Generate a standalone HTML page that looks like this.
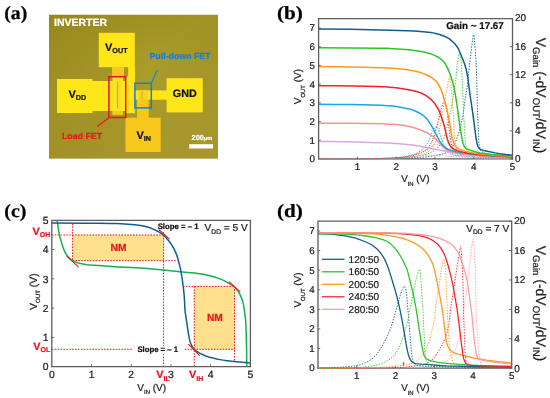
<!DOCTYPE html>
<html lang="en"><head><meta charset="utf-8"><title>Inverter figure</title>
<style>
html,body{margin:0;padding:0;background:#fff;}
body{width:550px;height:398px;overflow:hidden;font-family:"Liberation Sans", Arial, sans-serif;}
svg{display:block;}
text{white-space:pre;}
</style></head><body>
<svg width="550" height="398" viewBox="0 0 550 398" text-rendering="geometricPrecision">
<rect width="550" height="398" fill="#fff"/>
<text x="4.3" y="19.0" font-family='"Liberation Serif", "Times New Roman", serif' font-size="18.7" font-weight="bold" fill="#000" text-anchor="start" stroke="#000" stroke-width="0.22" textLength="23.0" lengthAdjust="spacingAndGlyphs">(a)</text>
<text x="277.0" y="19.0" font-family='"Liberation Serif", "Times New Roman", serif' font-size="18.7" font-weight="bold" fill="#000" text-anchor="start" stroke="#000" stroke-width="0.22" textLength="25.8" lengthAdjust="spacingAndGlyphs">(b)</text>
<text x="4.3" y="217.0" font-family='"Liberation Serif", "Times New Roman", serif' font-size="18.7" font-weight="bold" fill="#000" text-anchor="start" stroke="#000" stroke-width="0.22" textLength="22.1" lengthAdjust="spacingAndGlyphs">(c)</text>
<text x="277.0" y="217.0" font-family='"Liberation Serif", "Times New Roman", serif' font-size="18.7" font-weight="bold" fill="#000" text-anchor="start" stroke="#000" stroke-width="0.22" textLength="25.8" lengthAdjust="spacingAndGlyphs">(d)</text>
<defs>
<radialGradient id="bg" gradientUnits="userSpaceOnUse" cx="150" cy="75" r="120">
<stop offset="0" stop-color="#aea12e"/><stop offset="0.45" stop-color="#a69828"/><stop offset="1" stop-color="#a29226"/>
</radialGradient>
<linearGradient id="bg2" x1="0" y1="0" x2="0.6" y2="1">
<stop offset="0" stop-color="#8f8014" stop-opacity="0.55"/><stop offset="0.45" stop-color="#8f8014" stop-opacity="0.12"/><stop offset="1" stop-color="#b09a40" stop-opacity="0.25"/>
</linearGradient></defs>
<g id="photo">
<rect x="49" y="14.8" width="169" height="143.8" fill="url(#bg)"/>
<rect x="49" y="14.8" width="169" height="143.8" fill="url(#bg2)"/>
<rect x="98.8" y="32.8" width="36.00" height="34.40" fill="#ffe618" />
<rect x="128.2" y="67" width="6.80" height="46.20" fill="#ffe618" />
<rect x="125.4" y="76.5" width="3.00" height="36.70" fill="#ffe618" />
<rect x="112" y="67" width="12.00" height="10.50" fill="#f8c71c" />
<rect x="57" y="79" width="35.50" height="34.00" fill="#ffe618" />
<rect x="92" y="81" width="18.00" height="30.00" fill="#ffe618" />
<rect x="109.5" y="81" width="16.10" height="30.00" fill="#ffe618" />
<rect x="112.6" y="77.2" width="10.40" height="37.40" fill="#fee22a" />
<rect x="112.6" y="111" width="10.40" height="3.60" fill="#f6c920" />
<rect x="116.9" y="81.4" width="1.20" height="26.60" fill="#e8a818" />
<rect x="125.4" y="117.7" width="35.30" height="34.30" fill="#f8c71c" />
<rect x="137.1" y="99.4" width="11.70" height="18.60" fill="#f8c71c" />
<rect x="135" y="90.4" width="32.00" height="9.30" fill="#ffe618" />
<rect x="138" y="90.4" width="10.00" height="9.30" fill="#fbd422" />
<rect x="141.5" y="91.5" width="1.10" height="7.10" fill="#e8a818" />
<rect x="166.6" y="78.2" width="36.10" height="34.20" fill="#ffe618" />
<rect x="108.9" y="76.7" width="16.8" height="40.8" fill="none" stroke="#ea141a" stroke-width="1.5"/>
<rect x="134.9" y="83.3" width="16.4" height="24.6" fill="none" stroke="#1580d0" stroke-width="1.5"/>
<line x1="108.6" y1="118" x2="97.3" y2="126.6" stroke="#ee1418" stroke-width="1.2"/>
<line x1="157.3" y1="69.9" x2="151" y2="84" stroke="#1580d0" stroke-width="1.2"/>
<rect x="189.2" y="144.2" width="23.80" height="4.30" fill="#ffffff" />
<text x="191.6" y="140.2" font-family='"Liberation Sans", Arial, sans-serif' font-size="7.3" font-weight="bold" fill="#fff" text-anchor="start" stroke="#fff" stroke-width="0.22" >200<tspan font-size="5.6">&#956;m</tspan></text>
<text x="54" y="25.6" font-family='"Liberation Sans", Arial, sans-serif' font-size="10.5" font-weight="bold" fill="#fff" text-anchor="start" stroke="#fff" stroke-width="0.22" >INVERTER</text>
<text x="105" y="51" font-family='"Liberation Sans", Arial, sans-serif' font-size="11" font-weight="bold" fill="#111" text-anchor="start" stroke="#111" stroke-width="0.22" >V<tspan font-size="7.2" dy="2.2">OUT</tspan></text>
<text x="68.4" y="97.7" font-family='"Liberation Sans", Arial, sans-serif' font-size="11" font-weight="bold" fill="#111" text-anchor="start" stroke="#111" stroke-width="0.22" >V<tspan font-size="7.2" dy="2.2">DD</tspan></text>
<text x="136.5" y="138.5" font-family='"Liberation Sans", Arial, sans-serif' font-size="11" font-weight="bold" fill="#111" text-anchor="start" stroke="#111" stroke-width="0.22" >V<tspan font-size="7.2" dy="2.2">IN</tspan></text>
<text x="172.8" y="97.2" font-family='"Liberation Sans", Arial, sans-serif' font-size="10.8" font-weight="bold" fill="#111" text-anchor="start" stroke="#111" stroke-width="0.22" >GND</text>
<text x="149.5" y="59.3" font-family='"Liberation Sans", Arial, sans-serif' font-size="8.8" font-weight="bold" fill="#1580d0" text-anchor="start" stroke="#1580d0" stroke-width="0.22" >Pull-down FET</text>
<text x="62" y="139.2" font-family='"Liberation Sans", Arial, sans-serif' font-size="8.8" font-weight="bold" fill="#ee1418" text-anchor="start" stroke="#ee1418" stroke-width="0.22" >Load FET</text>
</g>
<g id="pb">
<rect x="318.6" y="18.6" width="193.89999999999998" height="140.3" fill="#fff" stroke="none"/>
<path d="M317.95000000000005 158.9 H513.15" fill="none" stroke="#5e5e5e" stroke-width="1.3"/>
<clipPath id="cb"><rect x="318.6" y="18.6" width="193.89999999999998" height="141.10000000000002"/></clipPath>
<g clip-path="url(#cb)" fill="none" stroke-linejoin="round">
<path d="M319.00 159.00 L352.25 158.92 L384.25 158.68 L402.00 158.46 L406.75 158.31 L411.75 158.06 L420.25 157.48 L424.50 157.06 L430.25 156.27 L439.00 154.83 L442.25 154.14 L445.00 153.30 L446.50 152.58 L448.00 151.52 L449.00 150.65 L450.00 149.65 L452.00 147.28 L454.40 143.90 L455.00 142.87 L455.50 141.86 L456.25 140.09 L457.00 138.09 L459.00 131.95 L460.25 127.50 L461.50 122.27 L462.50 117.41 L463.25 113.31 L463.75 109.86 L465.10 99.20 L467.00 88.20 L467.50 84.85 L468.00 80.61 L469.50 65.00 L470.50 56.36 L472.75 38.42 L473.25 35.57 L473.50 34.80 L473.70 34.60 L474.00 35.55 L474.50 40.30 L475.50 53.27 L476.00 61.11 L476.25 66.08 L476.75 80.42 L477.50 110.28 L477.75 117.54 L479.00 143.10 L479.25 145.49 L479.50 146.83 L480.00 148.92 L480.25 149.69 L480.75 150.72 L481.00 151.00 L481.75 151.59 L483.00 152.40 L484.25 153.03 L485.50 153.51 L487.00 153.94 L489.00 154.34 L493.00 154.96 L500.00 155.84 L506.25 156.34 L512.00 156.50" stroke="#0f5f8f" stroke-width="1" stroke-dasharray="1.4 1.4" stroke-dashoffset="0" opacity="0.92"/>
<path d="M319.00 159.00 L345.50 158.94 L369.75 158.75 L398.75 158.32 L401.75 158.25 L404.50 158.09 L408.75 157.69 L413.50 157.07 L420.25 155.95 L423.00 155.36 L426.50 154.31 L429.75 153.06 L432.00 151.99 L433.00 151.40 L434.25 150.55 L436.00 149.13 L438.00 147.21 L439.00 146.04 L440.00 144.58 L442.25 140.69 L443.75 137.84 L445.00 134.85 L445.75 132.53 L447.30 125.20 L450.00 114.30 L451.25 108.55 L452.00 104.65 L452.75 99.97 L453.80 91.60 L455.25 83.33 L455.70 80.30 L456.00 77.57 L457.00 66.35 L457.25 64.32 L458.25 58.50 L458.75 56.15 L459.25 54.50 L459.50 54.01 L459.80 53.80 L460.00 54.06 L460.25 55.04 L460.50 56.62 L461.00 60.99 L461.50 66.48 L462.00 75.68 L462.60 89.00 L463.60 113.60 L464.00 120.90 L465.25 140.75 L465.50 143.73 L465.70 145.20 L466.50 148.51 L466.75 149.29 L467.25 150.52 L467.50 150.96 L468.00 151.50 L469.50 152.37 L471.00 153.07 L472.25 153.54 L473.75 153.98 L475.50 154.37 L477.25 154.66 L486.25 155.66 L495.50 156.42 L504.00 156.86 L512.00 157.00" stroke="#2cc52a" stroke-width="1" stroke-dasharray="1.4 1.4" stroke-dashoffset="0" opacity="0.92"/>
<path d="M319.00 159.00 L352.75 158.84 L373.00 158.60 L384.00 158.40 L389.75 158.15 L396.75 157.72 L411.75 156.67 L424.00 155.54 L427.25 155.36 L430.00 155.30 L432.75 155.34 L435.75 155.48 L449.25 156.46 L465.50 157.37 L474.50 157.80 L495.00 158.42 L512.00 158.70" stroke="#d6a9e4" stroke-width="1" stroke-dasharray="1.4 1.4" stroke-dashoffset="0" opacity="0.92"/>
<path d="M319.00 159.00 L348.25 158.90 L374.00 158.63 L380.75 158.38 L388.25 157.97 L396.00 157.42 L400.50 156.95 L405.75 156.18 L411.50 155.10 L414.50 154.38 L417.50 153.44 L421.25 152.03 L425.75 150.16 L427.75 148.99 L432.00 146.13 L433.75 145.15 L434.75 144.73 L435.50 144.50 L436.25 144.35 L437.00 144.30 L437.50 144.35 L438.25 144.57 L439.50 145.29 L440.75 146.30 L443.25 148.63 L444.25 149.47 L450.00 153.39 L451.25 154.14 L452.50 154.78 L453.50 155.16 L454.50 155.42 L460.25 156.05 L467.25 156.68 L474.25 157.19 L481.25 157.59 L488.50 157.90 L496.00 158.12 L503.75 158.26 L512.00 158.30" stroke="#ff8f8c" stroke-width="1" stroke-dasharray="1.4 1.4" stroke-dashoffset="0" opacity="0.92"/>
<path d="M319.00 159.00 L341.50 158.95 L362.75 158.79 L385.50 158.48 L395.25 158.29 L398.00 158.18 L402.00 157.89 L406.50 157.42 L412.50 156.68 L416.50 156.06 L419.75 155.39 L422.75 154.57 L424.50 153.95 L426.00 153.13 L427.75 151.86 L429.50 150.31 L431.25 148.53 L432.50 146.93 L434.00 144.48 L435.50 141.50 L436.25 139.68 L437.25 136.73 L439.25 129.65 L440.00 126.55 L441.00 121.93 L442.25 115.41 L444.50 101.50 L445.75 94.76 L447.50 85.97 L448.50 80.14 L449.00 77.80 L449.25 77.03 L449.50 76.64 L449.60 76.60 L449.75 76.76 L450.00 77.68 L450.50 81.31 L451.50 91.05 L452.00 96.66 L453.20 113.60 L454.00 128.80 L454.75 140.42 L455.00 142.70 L455.75 146.64 L456.25 148.47 L456.50 149.15 L456.75 149.66 L457.00 150.00 L458.00 150.95 L459.25 151.91 L460.50 152.65 L461.75 153.20 L463.00 153.60 L464.25 153.87 L469.50 154.64 L474.50 155.26 L479.75 155.81 L485.00 156.27 L490.25 156.64 L495.50 156.93 L501.00 157.14 L506.50 157.26 L512.00 157.30" stroke="#ff981c" stroke-width="1" stroke-dasharray="1.4 1.4" stroke-dashoffset="1.4" opacity="0.92"/>
<path d="M319.00 159.00 L340.75 158.94 L361.25 158.77 L384.25 158.42 L390.75 158.28 L393.75 158.14 L397.75 157.83 L402.25 157.34 L406.50 156.79 L409.75 156.24 L413.00 155.53 L416.00 154.72 L419.25 153.67 L421.50 152.78 L423.25 151.86 L425.00 150.71 L426.75 149.30 L428.00 148.06 L429.00 146.71 L430.25 144.64 L431.50 142.24 L432.75 139.59 L433.50 137.79 L434.50 135.01 L436.50 128.44 L437.25 125.48 L440.50 111.66 L441.50 107.94 L443.00 103.24 L443.50 101.90 L444.00 100.96 L444.25 100.69 L444.50 100.60 L444.75 100.74 L445.00 101.15 L445.50 102.62 L446.25 105.99 L447.25 111.59 L447.75 115.89 L449.00 128.00 L450.25 137.65 L451.00 142.00 L452.00 146.14 L452.50 147.84 L453.00 149.16 L453.50 150.00 L454.25 150.81 L455.25 151.73 L456.25 152.49 L457.25 153.09 L458.25 153.54 L459.50 153.91 L466.25 154.88 L473.75 155.74 L482.75 156.53 L492.00 157.07 L501.75 157.39 L512.00 157.50" stroke="#f61f2a" stroke-width="1" stroke-dasharray="1.4 1.4" stroke-dashoffset="1.4" opacity="0.92"/>
<path d="M319.00 159.00 L340.75 158.94 L364.50 158.75 L377.00 158.51 L388.50 158.11 L396.00 157.74 L400.75 157.26 L403.50 156.86 L406.25 156.36 L409.25 155.72 L412.00 155.04 L413.75 154.47 L415.50 153.75 L417.25 152.89 L419.00 151.88 L420.75 150.73 L422.00 149.81 L423.00 148.90 L424.25 147.54 L426.25 144.89 L427.70 142.70 L428.25 141.73 L429.25 139.57 L432.00 132.93 L434.50 128.33 L435.00 127.53 L435.50 126.89 L436.00 126.46 L436.50 126.30 L436.75 126.37 L437.00 126.57 L437.25 126.89 L438.00 128.41 L443.00 142.66 L443.75 144.49 L445.25 147.30 L446.50 149.28 L447.25 150.24 L447.75 150.77 L449.25 152.04 L450.50 152.99 L451.75 153.80 L453.00 154.43 L454.00 154.79 L454.75 154.96 L460.75 155.66 L469.25 156.45 L478.00 157.08 L485.75 157.48 L494.00 157.77 L502.75 157.94 L512.00 158.00" stroke="#18a6ea" stroke-width="1" stroke-dasharray="1.4 1.4" stroke-dashoffset="0" opacity="0.92"/>
<path d="M319.00 141.50 L330.25 141.55 L342.50 141.72 L355.75 142.01 L371.25 142.43 L381.25 142.74 L387.00 142.99 L395.00 143.44 L402.50 143.98 L410.25 144.76 L415.50 145.51 L425.25 147.34 L436.50 149.60 L448.75 151.67 L459.50 153.69 L464.25 154.41 L473.00 155.29 L483.50 156.09 L498.75 157.00 L512.00 157.60" stroke="#d6a9e4" stroke-width="1.5"/>
<path d="M319.00 123.20 L334.50 123.24 L350.50 123.37 L367.25 123.58 L382.25 123.85 L389.25 124.14 L396.25 124.59 L400.50 124.97 L404.50 125.56 L407.75 126.19 L411.75 127.08 L414.00 127.68 L416.50 128.46 L419.75 129.64 L423.00 130.97 L425.75 132.20 L428.25 133.48 L431.25 135.31 L432.80 136.40 L433.75 137.18 L435.25 138.66 L438.50 142.19 L441.25 144.96 L442.50 146.14 L445.75 148.91 L446.75 149.62 L447.80 150.20 L450.00 151.11 L452.50 151.95 L455.75 152.77 L459.75 153.44 L465.25 154.17 L471.50 154.81 L483.00 155.72 L494.50 156.51 L503.75 157.00 L512.00 157.30" stroke="#ff8f8c" stroke-width="1.5"/>
<path d="M319.00 104.30 L335.00 104.38 L352.00 104.62 L372.75 105.09 L380.75 105.32 L384.75 105.51 L392.60 106.10 L396.50 106.59 L400.25 107.24 L406.50 108.48 L409.25 109.07 L411.25 109.57 L413.00 110.10 L414.75 110.79 L418.75 112.72 L421.00 113.92 L422.50 114.86 L423.75 115.81 L425.00 116.94 L426.25 118.23 L427.25 119.39 L428.50 121.09 L430.50 124.11 L431.75 126.14 L434.25 130.56 L437.75 137.51 L439.75 141.09 L441.00 143.08 L442.75 145.30 L444.25 146.86 L445.00 147.48 L445.75 148.00 L447.50 148.96 L449.00 149.60 L451.50 150.50 L453.75 151.19 L456.00 151.76 L458.50 152.27 L462.00 152.87 L469.00 153.87 L478.00 154.82 L492.50 156.01 L502.75 156.65 L512.00 157.00" stroke="#18a6ea" stroke-width="1.5"/>
<path d="M319.00 85.70 L336.50 85.78 L354.50 86.01 L377.00 86.52 L381.25 86.64 L384.75 86.84 L390.00 87.26 L396.00 87.85 L400.75 88.44 L405.50 89.17 L409.75 89.94 L413.50 90.78 L417.25 91.77 L420.00 92.66 L422.75 93.80 L425.25 95.08 L427.50 96.56 L430.00 98.54 L431.75 100.17 L433.75 102.40 L435.75 105.03 L437.25 107.38 L438.75 110.18 L439.75 112.44 L441.00 115.85 L443.00 121.82 L444.00 125.12 L445.00 128.80 L446.75 137.04 L447.50 139.63 L448.25 141.89 L449.00 143.73 L450.00 145.48 L451.25 147.16 L452.00 147.92 L452.50 148.30 L454.00 149.22 L455.50 149.97 L457.00 150.58 L458.75 151.15 L461.25 151.77 L464.25 152.39 L467.25 152.93 L470.50 153.42 L474.25 153.90 L478.75 154.38 L494.00 155.73 L503.50 156.33 L512.00 156.60" stroke="#f61f2a" stroke-width="1.5"/>
<path d="M319.00 66.60 L339.75 66.73 L362.25 67.13 L382.00 67.67 L387.25 67.93 L392.50 68.29 L398.75 68.83 L405.50 69.55 L409.00 70.02 L412.50 70.64 L416.75 71.57 L420.25 72.51 L423.50 73.63 L426.75 75.00 L429.75 76.50 L432.00 77.84 L434.00 79.36 L436.00 81.26 L437.25 82.74 L438.50 84.69 L440.25 88.00 L441.25 90.22 L442.75 94.25 L443.75 97.46 L445.50 103.98 L446.75 109.15 L447.75 113.66 L448.75 118.59 L450.25 126.47 L451.75 135.36 L452.25 137.86 L452.75 139.83 L453.50 142.33 L454.25 144.22 L454.75 145.09 L455.50 146.21 L456.00 146.85 L456.75 147.64 L457.60 148.30 L459.00 149.09 L460.50 149.75 L462.00 150.28 L464.75 151.06 L467.75 151.79 L470.75 152.42 L473.75 152.93 L485.75 154.42 L495.75 155.44 L500.00 155.77 L504.25 156.01 L508.25 156.15 L512.00 156.20" stroke="#ff981c" stroke-width="1.5"/>
<path d="M319.00 47.80 L350.50 47.91 L381.75 48.23 L387.00 48.37 L392.75 48.63 L405.75 49.45 L410.75 49.94 L416.00 50.64 L420.25 51.34 L424.50 52.24 L428.50 53.27 L432.00 54.36 L435.00 55.57 L437.75 56.97 L439.00 57.71 L440.25 58.56 L441.50 59.53 L442.50 60.41 L443.25 61.17 L444.00 62.08 L445.50 64.30 L446.50 66.00 L447.25 67.42 L448.75 70.78 L450.75 76.08 L452.25 80.74 L453.25 84.37 L454.00 87.47 L454.75 91.22 L455.50 95.51 L457.00 105.05 L459.25 121.54 L460.50 130.22 L461.75 137.54 L462.50 141.30 L463.00 143.28 L464.00 145.93 L464.75 147.30 L465.00 147.60 L465.50 148.03 L466.50 148.72 L467.50 149.24 L468.75 149.74 L472.00 150.83 L474.75 151.65 L477.50 152.35 L480.25 152.91 L482.50 153.27 L489.25 154.15 L498.00 155.11 L505.25 155.63 L508.75 155.76 L512.00 155.80" stroke="#2cc52a" stroke-width="1.5"/>
<path d="M319.00 28.90 L350.25 29.31 L390.50 30.14 L407.50 30.70 L414.25 31.04 L420.25 31.43 L425.75 31.91 L430.75 32.46 L433.25 32.87 L435.75 33.43 L439.50 34.50 L443.75 35.95 L445.25 36.60 L446.50 37.22 L449.00 38.70 L450.25 39.58 L451.50 40.57 L452.75 41.69 L453.75 42.69 L455.00 44.07 L456.00 45.30 L457.25 46.99 L458.00 48.14 L459.25 50.72 L462.75 59.24 L464.75 64.58 L465.75 67.78 L466.25 69.78 L467.00 73.33 L468.00 79.13 L470.10 95.40 L472.25 109.58 L473.00 114.91 L476.00 137.80 L476.40 140.20 L477.25 144.34 L477.75 146.06 L478.00 146.59 L478.50 147.46 L479.00 148.16 L479.50 148.70 L480.00 149.09 L481.50 149.76 L483.50 150.39 L488.50 151.39 L495.25 152.88 L499.50 153.69 L506.00 154.60 L512.00 155.20" stroke="#0f5f8f" stroke-width="1.5"/>
</g>
<path d="M318.6 159.55 V18.6 H512.5 V159.55" fill="none" stroke="#5e5e5e" stroke-width="1.3"/>
<line x1="318.6" y1="140.19" x2="320.8" y2="140.19" stroke="#5e5e5e" stroke-width="0.9"/>
<text x="315.0" y="143.69333333333333" font-family='"Liberation Sans", Arial, sans-serif' font-size="9.8" font-weight="normal" fill="#1a1a1a" text-anchor="end" stroke="#1a1a1a" stroke-width="0.22" >1</text>
<line x1="318.6" y1="121.49" x2="320.8" y2="121.49" stroke="#5e5e5e" stroke-width="0.9"/>
<text x="315.0" y="124.98666666666668" font-family='"Liberation Sans", Arial, sans-serif' font-size="9.8" font-weight="normal" fill="#1a1a1a" text-anchor="end" stroke="#1a1a1a" stroke-width="0.22" >2</text>
<line x1="318.6" y1="102.78" x2="320.8" y2="102.78" stroke="#5e5e5e" stroke-width="0.9"/>
<text x="315.0" y="106.28" font-family='"Liberation Sans", Arial, sans-serif' font-size="9.8" font-weight="normal" fill="#1a1a1a" text-anchor="end" stroke="#1a1a1a" stroke-width="0.22" >3</text>
<line x1="318.6" y1="84.07" x2="320.8" y2="84.07" stroke="#5e5e5e" stroke-width="0.9"/>
<text x="315.0" y="87.57333333333334" font-family='"Liberation Sans", Arial, sans-serif' font-size="9.8" font-weight="normal" fill="#1a1a1a" text-anchor="end" stroke="#1a1a1a" stroke-width="0.22" >4</text>
<line x1="318.6" y1="65.37" x2="320.8" y2="65.37" stroke="#5e5e5e" stroke-width="0.9"/>
<text x="315.0" y="68.86666666666667" font-family='"Liberation Sans", Arial, sans-serif' font-size="9.8" font-weight="normal" fill="#1a1a1a" text-anchor="end" stroke="#1a1a1a" stroke-width="0.22" >5</text>
<line x1="318.6" y1="46.66" x2="320.8" y2="46.66" stroke="#5e5e5e" stroke-width="0.9"/>
<text x="315.0" y="50.16" font-family='"Liberation Sans", Arial, sans-serif' font-size="9.8" font-weight="normal" fill="#1a1a1a" text-anchor="end" stroke="#1a1a1a" stroke-width="0.22" >6</text>
<line x1="318.6" y1="27.95" x2="320.8" y2="27.95" stroke="#5e5e5e" stroke-width="0.9"/>
<text x="315.0" y="31.45333333333332" font-family='"Liberation Sans", Arial, sans-serif' font-size="9.8" font-weight="normal" fill="#1a1a1a" text-anchor="end" stroke="#1a1a1a" stroke-width="0.22" >7</text>
<text x="315.0" y="162.1" font-family='"Liberation Sans", Arial, sans-serif' font-size="9.8" font-weight="normal" fill="#1a1a1a" text-anchor="end" stroke="#1a1a1a" stroke-width="0.22" >0</text>
<line x1="357.38" y1="158.9" x2="357.38" y2="156.70000000000002" stroke="#5e5e5e" stroke-width="0.9"/>
<text x="357.38" y="170.1" font-family='"Liberation Sans", Arial, sans-serif' font-size="9.8" font-weight="normal" fill="#1a1a1a" text-anchor="middle" stroke="#1a1a1a" stroke-width="0.22" >1</text>
<line x1="396.16" y1="158.9" x2="396.16" y2="156.70000000000002" stroke="#5e5e5e" stroke-width="0.9"/>
<text x="396.16" y="170.1" font-family='"Liberation Sans", Arial, sans-serif' font-size="9.8" font-weight="normal" fill="#1a1a1a" text-anchor="middle" stroke="#1a1a1a" stroke-width="0.22" >2</text>
<line x1="434.94" y1="158.9" x2="434.94" y2="156.70000000000002" stroke="#5e5e5e" stroke-width="0.9"/>
<text x="434.94" y="170.1" font-family='"Liberation Sans", Arial, sans-serif' font-size="9.8" font-weight="normal" fill="#1a1a1a" text-anchor="middle" stroke="#1a1a1a" stroke-width="0.22" >3</text>
<line x1="473.72" y1="158.9" x2="473.72" y2="156.70000000000002" stroke="#5e5e5e" stroke-width="0.9"/>
<text x="473.72" y="170.1" font-family='"Liberation Sans", Arial, sans-serif' font-size="9.8" font-weight="normal" fill="#1a1a1a" text-anchor="middle" stroke="#1a1a1a" stroke-width="0.22" >4</text>
<text x="512.5" y="170.1" font-family='"Liberation Sans", Arial, sans-serif' font-size="9.8" font-weight="normal" fill="#1a1a1a" text-anchor="middle" stroke="#1a1a1a" stroke-width="0.22" >5</text>
<line x1="512.5" y1="158.90" x2="509.7" y2="158.90" stroke="#5e5e5e" stroke-width="0.9"/>
<text x="515.0" y="162.3" font-family='"Liberation Sans", Arial, sans-serif' font-size="10" font-weight="normal" fill="#1a1a1a" text-anchor="start" stroke="#1a1a1a" stroke-width="0.22" >0</text>
<line x1="512.5" y1="130.84" x2="509.7" y2="130.84" stroke="#5e5e5e" stroke-width="0.9"/>
<text x="515.0" y="134.24" font-family='"Liberation Sans", Arial, sans-serif' font-size="10" font-weight="normal" fill="#1a1a1a" text-anchor="start" stroke="#1a1a1a" stroke-width="0.22" >4</text>
<line x1="512.5" y1="102.78" x2="509.7" y2="102.78" stroke="#5e5e5e" stroke-width="0.9"/>
<text x="515.0" y="106.18" font-family='"Liberation Sans", Arial, sans-serif' font-size="10" font-weight="normal" fill="#1a1a1a" text-anchor="start" stroke="#1a1a1a" stroke-width="0.22" >8</text>
<line x1="512.5" y1="74.72" x2="509.7" y2="74.72" stroke="#5e5e5e" stroke-width="0.9"/>
<text x="515.0" y="78.12" font-family='"Liberation Sans", Arial, sans-serif' font-size="10" font-weight="normal" fill="#1a1a1a" text-anchor="start" stroke="#1a1a1a" stroke-width="0.22" >12</text>
<line x1="512.5" y1="46.66" x2="509.7" y2="46.66" stroke="#5e5e5e" stroke-width="0.9"/>
<text x="515.0" y="50.059999999999995" font-family='"Liberation Sans", Arial, sans-serif' font-size="10" font-weight="normal" fill="#1a1a1a" text-anchor="start" stroke="#1a1a1a" stroke-width="0.22" >16</text>
<line x1="512.5" y1="18.60" x2="509.7" y2="18.60" stroke="#5e5e5e" stroke-width="0.9"/>
<text x="515.0" y="21.099999999999994" font-family='"Liberation Sans", Arial, sans-serif' font-size="10" font-weight="normal" fill="#1a1a1a" text-anchor="start" stroke="#1a1a1a" stroke-width="0.22" >20</text>
<text x="446.2" y="28.9" font-family='"Liberation Sans", Arial, sans-serif' font-size="9.9" font-weight="bold" fill="#111" text-anchor="start" stroke="#111" stroke-width="0.22" textLength="57.6" lengthAdjust="spacingAndGlyphs">Gain ~ 17.67</text>
<text x="0" y="0" font-family='"Liberation Sans", Arial, sans-serif' font-size="10" font-weight="normal" fill="#1a1a1a" text-anchor="middle" stroke="#1a1a1a" stroke-width="0.22" transform="translate(301.4,86.6) rotate(-90)">V<tspan font-size="5.9" dy="3.3">OUT</tspan><tspan dy="-3.3"> (V)</tspan></text>
<text x="415.3" y="182.4" font-family='"Liberation Sans", Arial, sans-serif' font-size="9.8" font-weight="normal" fill="#1a1a1a" text-anchor="middle" stroke="#1a1a1a" stroke-width="0.22" >V<tspan font-size="5.9" dy="3.3">IN</tspan><tspan dy="-3.3"> (V)</tspan></text>
<text x="0" y="0" font-family='"Liberation Sans", Arial, sans-serif' font-size="14" font-weight="normal" fill="#1a1a1a" text-anchor="middle" stroke="#1a1a1a" stroke-width="0.22" transform="translate(535.5,95.5) rotate(90)">V<tspan font-size="9.6" dy="3">Gain</tspan><tspan dy="-3"> (-dV</tspan><tspan font-size="9.6" dy="3">OUT</tspan><tspan dy="-3">/dV</tspan><tspan font-size="9.6" dy="3">IN</tspan><tspan dy="-3">)</tspan></text>
</g>
<g id="pd">
<rect x="318.0" y="221.2" width="193.7" height="146.90000000000003" fill="#fff" stroke="none"/>
<path d="M317.35 368.1 H512.35" fill="none" stroke="#5e5e5e" stroke-width="1.3"/>
<clipPath id="cd"><rect x="318.0" y="221.2" width="193.7" height="147.70000000000005"/></clipPath>
<g clip-path="url(#cd)" fill="none" stroke-linejoin="round">
<path d="M318.80 368.30 L349.05 368.23 L376.05 368.03 L402.80 367.65 L419.30 367.32 L422.05 367.21 L425.55 366.87 L429.30 366.31 L435.80 365.04 L438.55 364.38 L441.80 363.33 L444.80 362.09 L446.55 361.17 L448.30 359.93 L449.05 359.26 L449.80 358.43 L450.55 357.43 L451.55 355.93 L454.05 351.76 L455.05 349.80 L455.80 348.14 L456.80 345.49 L457.80 342.06 L459.05 337.05 L460.05 332.47 L461.30 325.97 L462.55 318.61 L466.05 293.99 L468.55 275.02 L469.90 262.70 L471.55 248.86 L472.30 242.06 L472.55 240.39 L472.80 239.49 L472.90 239.40 L473.05 239.62 L473.30 240.82 L473.55 242.85 L474.20 250.00 L474.55 254.69 L475.05 264.31 L475.30 271.08 L476.30 315.14 L476.55 321.14 L476.80 325.32 L477.70 336.80 L478.55 351.33 L478.80 353.89 L479.30 357.80 L479.80 360.65 L480.05 361.60 L480.80 363.22 L481.55 364.41 L482.30 365.19 L482.55 365.35 L483.00 365.50 L489.30 366.19 L496.05 366.66 L503.30 366.92 L512.00 367.00" stroke="#ff9a9c" stroke-width="1" stroke-dasharray="1.4 1.4" stroke-dashoffset="0" opacity="0.92"/>
<path d="M318.80 368.30 L343.05 368.24 L365.30 368.07 L388.30 367.74 L400.05 367.50 L402.30 367.39 L406.05 367.05 L417.30 365.71 L420.55 365.22 L423.55 364.61 L425.30 364.09 L427.30 363.18 L429.55 361.81 L430.55 361.12 L431.30 360.51 L433.05 358.76 L435.30 356.01 L437.30 353.24 L439.05 350.32 L443.30 342.52 L444.55 339.96 L445.30 338.10 L445.80 336.67 L447.05 332.33 L448.05 327.93 L448.80 324.00 L449.30 320.45 L450.55 309.32 L451.05 305.84 L453.20 293.10 L456.30 271.88 L457.80 262.34 L459.05 254.86 L459.80 249.74 L460.30 247.17 L460.55 246.52 L460.70 246.40 L460.80 246.61 L461.05 248.59 L461.80 258.52 L462.30 266.07 L462.55 271.49 L463.20 293.00 L463.80 318.00 L464.05 326.11 L464.55 339.78 L465.05 350.24 L465.30 354.72 L465.70 359.50 L466.30 363.04 L466.55 364.07 L466.80 364.74 L467.00 365.00 L467.80 365.44 L468.80 365.89 L469.80 366.25 L471.80 366.71 L474.05 366.95 L482.30 367.27 L491.55 367.51 L501.30 367.65 L512.00 367.70" stroke="#f61f2a" stroke-width="1" stroke-dasharray="1.4 1.4" stroke-dashoffset="0" opacity="0.92"/>
<path d="M318.80 368.20 L323.55 368.12 L329.05 367.91 L343.30 367.08 L347.55 366.72 L351.30 366.31 L354.80 365.84 L358.05 365.30 L360.30 364.73 L362.55 363.96 L365.05 362.92 L368.05 361.47 L369.80 360.48 L371.30 359.46 L373.05 358.08 L374.55 356.73 L376.05 355.20 L377.30 353.57 L379.05 350.91 L381.80 346.46 L383.80 342.93 L385.55 339.60 L387.55 335.51 L389.05 332.16 L390.80 327.73 L392.05 323.90 L396.05 310.36 L400.30 295.25 L401.05 292.82 L402.55 289.03 L403.30 287.42 L403.80 286.65 L404.05 286.39 L404.30 286.24 L404.50 286.20 L404.80 286.44 L405.05 286.97 L405.55 288.74 L406.40 293.10 L406.80 296.37 L410.30 337.99 L411.30 350.81 L411.80 355.73 L412.00 357.00 L412.55 359.56 L413.30 362.13 L413.80 363.09 L415.05 364.16 L416.05 364.81 L417.05 365.32 L418.05 365.68 L419.30 365.94 L431.30 366.44 L448.55 366.93 L467.05 367.26 L487.30 367.44 L512.00 367.50" stroke="#0f5f8f" stroke-width="1" stroke-dasharray="1.4 1.4" stroke-dashoffset="1.4" opacity="0.92"/>
<path d="M318.80 368.30 L327.05 368.26 L335.55 368.12 L344.30 367.90 L353.05 367.60 L362.80 367.13 L366.30 366.78 L369.80 366.30 L373.30 365.69 L376.80 364.97 L380.30 364.12 L381.80 363.60 L384.30 362.40 L388.55 359.98 L390.80 358.43 L392.80 356.71 L394.30 355.09 L395.80 353.12 L397.55 350.41 L399.05 347.72 L400.05 345.53 L401.05 342.98 L402.55 338.72 L404.05 334.14 L406.80 324.35 L408.05 319.20 L408.55 316.62 L409.30 311.84 L409.80 309.18 L412.00 299.40 L414.30 287.75 L416.30 278.46 L417.05 275.66 L418.55 270.86 L419.05 269.77 L419.30 269.45 L419.60 269.30 L419.80 269.67 L420.05 271.01 L420.80 278.00 L421.05 281.07 L421.80 293.10 L422.55 303.34 L423.05 312.39 L424.80 349.06 L425.05 352.94 L425.20 354.40 L425.55 356.63 L425.80 357.98 L426.30 360.09 L426.55 360.87 L427.05 361.93 L428.30 363.44 L429.30 364.35 L430.05 364.86 L430.80 365.23 L431.55 365.44 L436.80 365.80 L445.30 366.26 L459.55 366.84 L474.80 367.22 L491.55 367.43 L512.00 367.50" stroke="#2cc52a" stroke-width="1" stroke-dasharray="1.4 1.4" stroke-dashoffset="1.4" opacity="0.92"/>
<path d="M318.80 368.30 L332.55 368.25 L346.55 368.08 L361.05 367.81 L375.80 367.43 L380.80 367.27 L384.05 367.10 L397.05 366.03 L401.55 365.58 L405.05 365.11 L407.55 364.63 L409.80 364.04 L412.80 363.02 L415.55 361.83 L417.05 360.94 L418.80 359.59 L419.80 358.67 L421.05 357.40 L421.80 356.55 L422.55 355.56 L423.30 354.43 L424.30 352.70 L426.05 349.19 L427.30 346.25 L428.55 342.62 L430.30 336.80 L431.55 332.10 L433.80 322.42 L434.55 318.32 L435.05 314.14 L435.80 306.53 L436.30 302.73 L439.70 280.60 L441.05 271.30 L442.80 261.14 L443.05 260.08 L443.30 259.34 L443.60 259.00 L443.80 259.17 L444.05 259.81 L444.55 262.30 L445.30 268.00 L445.55 270.96 L446.05 280.50 L446.60 293.00 L447.60 318.00 L448.30 329.71 L449.30 344.09 L449.80 350.29 L450.30 353.66 L451.05 357.01 L451.55 358.60 L451.90 359.50 L452.55 360.93 L453.05 361.85 L453.55 362.56 L454.00 363.00 L455.05 363.72 L456.05 364.30 L457.05 364.77 L458.05 365.13 L459.05 365.38 L459.80 365.48 L471.30 366.17 L483.55 366.64 L496.80 366.91 L512.00 367.00" stroke="#ff981c" stroke-width="1" stroke-dasharray="1.4 1.4" stroke-dashoffset="0" opacity="0.92"/>
<path d="M318.00 233.80 L323.50 233.90 L330.75 234.21 L333.75 234.42 L337.00 234.77 L343.50 235.66 L347.75 236.37 L352.25 237.32 L356.50 238.44 L358.50 239.14 L366.50 242.25 L369.25 243.51 L371.50 244.75 L372.75 245.57 L374.25 246.66 L376.75 248.77 L379.00 251.06 L381.00 253.51 L382.75 256.10 L384.50 259.15 L385.75 261.66 L387.25 265.27 L388.50 268.63 L389.75 272.39 L395.00 289.78 L396.50 295.14 L398.00 301.02 L399.25 306.39 L400.50 312.27 L401.75 318.58 L403.00 325.44 L404.25 332.68 L406.00 343.47 L407.25 349.80 L408.00 353.17 L408.50 355.07 L408.90 356.30 L409.50 357.87 L410.25 359.57 L410.75 360.47 L411.25 361.15 L412.00 361.83 L412.75 362.41 L413.75 363.01 L414.75 363.40 L416.25 363.66 L418.50 363.94 L422.00 364.22 L429.75 364.66 L441.25 365.58 L446.75 365.92 L462.50 366.36 L480.25 366.73 L496.50 366.93 L512.00 367.00" stroke="#0f5f8f" stroke-width="1.3"/>
<path d="M318.00 233.50 L325.25 233.58 L333.75 233.79 L344.75 234.16 L351.25 234.49 L356.75 234.88 L361.00 235.31 L366.25 235.99 L371.00 236.76 L375.50 237.71 L380.00 238.87 L383.50 239.94 L386.25 241.04 L388.00 241.96 L390.00 243.40 L392.50 245.62 L394.50 247.68 L396.25 249.86 L398.50 252.99 L400.00 255.29 L401.75 258.27 L403.50 261.60 L406.00 266.91 L406.75 268.66 L407.50 270.84 L408.25 273.62 L410.00 280.99 L412.75 292.00 L414.00 297.63 L415.00 302.57 L416.25 309.59 L419.25 329.54 L421.00 340.70 L421.75 345.07 L423.00 351.42 L423.75 354.43 L424.25 355.64 L425.00 357.05 L425.50 357.79 L426.00 358.38 L426.50 358.80 L428.00 359.69 L429.50 360.36 L431.25 360.92 L433.50 361.45 L436.75 362.05 L440.25 362.57 L444.25 363.04 L449.50 363.55 L462.25 364.54 L475.75 365.31 L496.00 366.11 L512.00 366.50" stroke="#2cc52a" stroke-width="1.3"/>
<path d="M318.00 233.30 L350.00 233.37 L364.00 233.50 L369.25 233.63 L373.00 233.80 L377.75 234.13 L382.00 234.53 L390.75 235.90 L395.25 236.68 L399.50 237.58 L402.75 238.46 L405.00 239.18 L407.25 239.99 L409.75 240.99 L412.25 242.07 L415.25 243.58 L418.50 245.57 L420.00 246.62 L421.25 247.58 L422.50 248.64 L423.75 249.82 L425.75 252.00 L427.75 254.67 L429.75 257.86 L431.25 260.74 L432.75 264.27 L434.00 268.00 L435.00 272.05 L437.00 281.72 L440.25 298.28 L441.50 305.11 L442.50 311.45 L443.50 318.54 L445.75 336.96 L446.25 340.36 L447.00 343.49 L447.50 345.19 L448.00 346.58 L448.75 348.12 L449.75 349.52 L450.75 350.61 L452.00 351.60 L453.75 352.54 L455.75 353.40 L457.75 354.09 L460.00 354.74 L465.50 356.13 L469.25 357.00 L473.00 357.78 L477.25 358.58 L486.25 360.04 L496.50 361.39 L512.00 363.20" stroke="#ff981c" stroke-width="1.3"/>
<path d="M318.00 233.20 L388.00 233.20 L394.25 233.36 L402.50 233.77 L408.25 234.27 L414.50 235.01 L419.00 235.74 L423.25 236.64 L426.00 237.38 L428.75 238.44 L431.75 239.90 L434.00 241.29 L435.50 242.39 L437.00 243.63 L438.00 244.58 L439.00 245.72 L440.25 247.34 L441.50 249.18 L442.50 250.84 L443.50 252.70 L444.25 254.27 L445.00 256.06 L446.00 258.76 L447.00 261.71 L448.25 265.97 L450.25 273.50 L451.75 279.68 L453.00 285.59 L455.50 299.77 L456.90 308.20 L458.30 317.80 L461.25 342.56 L463.00 355.19 L463.50 357.82 L463.75 358.72 L464.50 361.03 L465.25 362.66 L465.70 363.20 L466.50 363.78 L467.25 364.22 L468.25 364.67 L469.00 364.91 L469.75 365.06 L472.25 365.29 L477.25 365.61 L483.00 365.83 L501.00 366.26 L512.00 366.40" stroke="#f61f2a" stroke-width="1.25"/>
<path d="M318.00 233.20 L400.25 233.20 L405.75 233.40 L415.00 234.03 L421.50 234.69 L427.75 235.55 L432.75 236.49 L437.50 237.66 L438.75 238.06 L440.25 238.65 L445.25 240.91 L448.50 242.57 L451.75 244.46 L453.00 245.47 L453.75 246.33 L454.50 247.33 L458.00 252.43 L458.75 253.72 L459.50 255.20 L460.00 256.42 L460.50 257.88 L462.00 262.70 L464.00 268.81 L465.50 274.11 L466.50 278.21 L467.25 281.95 L468.00 286.76 L469.75 299.12 L471.75 314.00 L472.50 320.80 L473.60 333.10 L474.25 339.20 L475.00 345.45 L475.75 350.82 L476.25 353.94 L476.50 355.08 L477.00 356.37 L477.75 357.69 L478.25 358.31 L478.75 358.72 L479.75 359.19 L481.00 359.68 L483.50 360.37 L485.50 360.75 L493.50 362.03 L500.25 362.99 L506.25 363.62 L511.60 363.90" stroke="#ff9a9c" stroke-width="1.25"/>
</g>
<path d="M403.5 362.2 V365.6" stroke="#f61f2a" stroke-width="1.2"/>
<path d="M318.0 368.75 V221.2 H511.7 V368.75" fill="none" stroke="#5e5e5e" stroke-width="1.3"/>
<line x1="318.0" y1="348.51" x2="320.2" y2="348.51" stroke="#5e5e5e" stroke-width="0.9"/>
<text x="314.6" y="352.0133333333334" font-family='"Liberation Sans", Arial, sans-serif' font-size="9.8" font-weight="normal" fill="#1a1a1a" text-anchor="end" stroke="#1a1a1a" stroke-width="0.22" >1</text>
<line x1="318.0" y1="328.93" x2="320.2" y2="328.93" stroke="#5e5e5e" stroke-width="0.9"/>
<text x="314.6" y="332.4266666666667" font-family='"Liberation Sans", Arial, sans-serif' font-size="9.8" font-weight="normal" fill="#1a1a1a" text-anchor="end" stroke="#1a1a1a" stroke-width="0.22" >2</text>
<line x1="318.0" y1="309.34" x2="320.2" y2="309.34" stroke="#5e5e5e" stroke-width="0.9"/>
<text x="314.6" y="312.84000000000003" font-family='"Liberation Sans", Arial, sans-serif' font-size="9.8" font-weight="normal" fill="#1a1a1a" text-anchor="end" stroke="#1a1a1a" stroke-width="0.22" >3</text>
<line x1="318.0" y1="289.75" x2="320.2" y2="289.75" stroke="#5e5e5e" stroke-width="0.9"/>
<text x="314.6" y="293.25333333333333" font-family='"Liberation Sans", Arial, sans-serif' font-size="9.8" font-weight="normal" fill="#1a1a1a" text-anchor="end" stroke="#1a1a1a" stroke-width="0.22" >4</text>
<line x1="318.0" y1="270.17" x2="320.2" y2="270.17" stroke="#5e5e5e" stroke-width="0.9"/>
<text x="314.6" y="273.66666666666663" font-family='"Liberation Sans", Arial, sans-serif' font-size="9.8" font-weight="normal" fill="#1a1a1a" text-anchor="end" stroke="#1a1a1a" stroke-width="0.22" >5</text>
<line x1="318.0" y1="250.58" x2="320.2" y2="250.58" stroke="#5e5e5e" stroke-width="0.9"/>
<text x="314.6" y="254.07999999999998" font-family='"Liberation Sans", Arial, sans-serif' font-size="9.8" font-weight="normal" fill="#1a1a1a" text-anchor="end" stroke="#1a1a1a" stroke-width="0.22" >6</text>
<line x1="318.0" y1="230.99" x2="320.2" y2="230.99" stroke="#5e5e5e" stroke-width="0.9"/>
<text x="314.6" y="234.49333333333334" font-family='"Liberation Sans", Arial, sans-serif' font-size="9.8" font-weight="normal" fill="#1a1a1a" text-anchor="end" stroke="#1a1a1a" stroke-width="0.22" >7</text>
<text x="314.6" y="371.3" font-family='"Liberation Sans", Arial, sans-serif' font-size="9.8" font-weight="normal" fill="#1a1a1a" text-anchor="end" stroke="#1a1a1a" stroke-width="0.22" >0</text>
<line x1="356.74" y1="368.1" x2="356.74" y2="365.90000000000003" stroke="#5e5e5e" stroke-width="0.9"/>
<text x="356.74" y="379.3" font-family='"Liberation Sans", Arial, sans-serif' font-size="9.8" font-weight="normal" fill="#1a1a1a" text-anchor="middle" stroke="#1a1a1a" stroke-width="0.22" >1</text>
<line x1="395.48" y1="368.1" x2="395.48" y2="365.90000000000003" stroke="#5e5e5e" stroke-width="0.9"/>
<text x="395.48" y="379.3" font-family='"Liberation Sans", Arial, sans-serif' font-size="9.8" font-weight="normal" fill="#1a1a1a" text-anchor="middle" stroke="#1a1a1a" stroke-width="0.22" >2</text>
<line x1="434.22" y1="368.1" x2="434.22" y2="365.90000000000003" stroke="#5e5e5e" stroke-width="0.9"/>
<text x="434.21999999999997" y="379.3" font-family='"Liberation Sans", Arial, sans-serif' font-size="9.8" font-weight="normal" fill="#1a1a1a" text-anchor="middle" stroke="#1a1a1a" stroke-width="0.22" >3</text>
<line x1="472.96" y1="368.1" x2="472.96" y2="365.90000000000003" stroke="#5e5e5e" stroke-width="0.9"/>
<text x="472.96" y="379.3" font-family='"Liberation Sans", Arial, sans-serif' font-size="9.8" font-weight="normal" fill="#1a1a1a" text-anchor="middle" stroke="#1a1a1a" stroke-width="0.22" >4</text>
<text x="511.7" y="379.3" font-family='"Liberation Sans", Arial, sans-serif' font-size="9.8" font-weight="normal" fill="#1a1a1a" text-anchor="middle" stroke="#1a1a1a" stroke-width="0.22" >5</text>
<line x1="511.7" y1="368.10" x2="508.9" y2="368.10" stroke="#5e5e5e" stroke-width="0.9"/>
<text x="514.2" y="371.5" font-family='"Liberation Sans", Arial, sans-serif' font-size="10" font-weight="normal" fill="#1a1a1a" text-anchor="start" stroke="#1a1a1a" stroke-width="0.22" >0</text>
<line x1="511.7" y1="338.72" x2="508.9" y2="338.72" stroke="#5e5e5e" stroke-width="0.9"/>
<text x="514.2" y="342.12" font-family='"Liberation Sans", Arial, sans-serif' font-size="10" font-weight="normal" fill="#1a1a1a" text-anchor="start" stroke="#1a1a1a" stroke-width="0.22" >4</text>
<line x1="511.7" y1="309.34" x2="508.9" y2="309.34" stroke="#5e5e5e" stroke-width="0.9"/>
<text x="514.2" y="312.74" font-family='"Liberation Sans", Arial, sans-serif' font-size="10" font-weight="normal" fill="#1a1a1a" text-anchor="start" stroke="#1a1a1a" stroke-width="0.22" >8</text>
<line x1="511.7" y1="279.96" x2="508.9" y2="279.96" stroke="#5e5e5e" stroke-width="0.9"/>
<text x="514.2" y="283.36" font-family='"Liberation Sans", Arial, sans-serif' font-size="10" font-weight="normal" fill="#1a1a1a" text-anchor="start" stroke="#1a1a1a" stroke-width="0.22" >12</text>
<line x1="511.7" y1="250.58" x2="508.9" y2="250.58" stroke="#5e5e5e" stroke-width="0.9"/>
<text x="514.2" y="253.98" font-family='"Liberation Sans", Arial, sans-serif' font-size="10" font-weight="normal" fill="#1a1a1a" text-anchor="start" stroke="#1a1a1a" stroke-width="0.22" >16</text>
<line x1="511.7" y1="221.20" x2="508.9" y2="221.20" stroke="#5e5e5e" stroke-width="0.9"/>
<text x="514.2" y="223.7" font-family='"Liberation Sans", Arial, sans-serif' font-size="10" font-weight="normal" fill="#1a1a1a" text-anchor="start" stroke="#1a1a1a" stroke-width="0.22" >20</text>
<text x="466.2" y="231.5" font-family='"Liberation Sans", Arial, sans-serif' font-size="10.1" font-weight="normal" fill="#1a1a1a" text-anchor="start" stroke="#1a1a1a" stroke-width="0.22" >V<tspan font-size="6.7" dy="2.7">DD</tspan><tspan dy="-2.7"> = 7 V</tspan></text>
<line x1="322" y1="259.3" x2="344.5" y2="259.3" stroke="#0f5f8f" stroke-width="1.3"/>
<text x="348.6" y="262.90000000000003" font-family='"Liberation Sans", Arial, sans-serif' font-size="10" font-weight="normal" fill="#1a1a1a" text-anchor="start" stroke="#1a1a1a" stroke-width="0.22" >120:50</text>
<line x1="322" y1="271.8" x2="344.5" y2="271.8" stroke="#2cc52a" stroke-width="1.3"/>
<text x="348.6" y="275.40000000000003" font-family='"Liberation Sans", Arial, sans-serif' font-size="10" font-weight="normal" fill="#1a1a1a" text-anchor="start" stroke="#1a1a1a" stroke-width="0.22" >160:50</text>
<line x1="322" y1="284.3" x2="344.5" y2="284.3" stroke="#ff981c" stroke-width="1.3"/>
<text x="348.6" y="287.90000000000003" font-family='"Liberation Sans", Arial, sans-serif' font-size="10" font-weight="normal" fill="#1a1a1a" text-anchor="start" stroke="#1a1a1a" stroke-width="0.22" >200:50</text>
<line x1="322" y1="296.8" x2="344.5" y2="296.8" stroke="#f61f2a" stroke-width="1.25"/>
<text x="348.6" y="300.40000000000003" font-family='"Liberation Sans", Arial, sans-serif' font-size="10" font-weight="normal" fill="#1a1a1a" text-anchor="start" stroke="#1a1a1a" stroke-width="0.22" >240:50</text>
<line x1="322" y1="309.3" x2="344.5" y2="309.3" stroke="#ff9a9c" stroke-width="1.25"/>
<text x="348.6" y="312.90000000000003" font-family='"Liberation Sans", Arial, sans-serif' font-size="10" font-weight="normal" fill="#1a1a1a" text-anchor="start" stroke="#1a1a1a" stroke-width="0.22" >280:50</text>
<text x="0" y="0" font-family='"Liberation Sans", Arial, sans-serif' font-size="10" font-weight="normal" fill="#1a1a1a" text-anchor="middle" stroke="#1a1a1a" stroke-width="0.22" transform="translate(301.4,290) rotate(-90)">V<tspan font-size="5.9" dy="3.3">OUT</tspan><tspan dy="-3.3"> (V)</tspan></text>
<text x="415.3" y="391.4" font-family='"Liberation Sans", Arial, sans-serif' font-size="9.8" font-weight="normal" fill="#1a1a1a" text-anchor="middle" stroke="#1a1a1a" stroke-width="0.22" >V<tspan font-size="5.9" dy="3.3">IN</tspan><tspan dy="-3.3"> (V)</tspan></text>
<text x="0" y="0" font-family='"Liberation Sans", Arial, sans-serif' font-size="14" font-weight="normal" fill="#1a1a1a" text-anchor="middle" stroke="#1a1a1a" stroke-width="0.22" transform="translate(535.5,303.5) rotate(90)">V<tspan font-size="9.6" dy="3">Gain</tspan><tspan dy="-3"> (-dV</tspan><tspan font-size="9.6" dy="3">OUT</tspan><tspan dy="-3">/dV</tspan><tspan font-size="9.6" dy="3">IN</tspan><tspan dy="-3">)</tspan></text>
</g>
<g id="pc">
<rect x="51.8" y="220.3" width="198.60000000000002" height="146.3" fill="#fff" stroke="none"/>
<rect x="72.6" y="235.0" width="91.00" height="25.70" fill="#ffe08c" />
<rect x="194.3" y="286.4" width="40.20" height="62.90" fill="#ffe08c" />
<g stroke="#f0141e" stroke-width="1" stroke-dasharray="1.6 1.3" fill="none">
<line x1="51.8" y1="235.0" x2="163.6" y2="235.0"/>
<line x1="72.6" y1="260.7" x2="177.3" y2="260.7"/>
<line x1="72.6" y1="223.4" x2="72.6" y2="260.7"/>
<line x1="163.6" y1="232" x2="163.6" y2="366.6"/>
<line x1="194.3" y1="286.4" x2="194.3" y2="366.6"/>
<line x1="183" y1="286.4" x2="234.5" y2="286.4"/>
<line x1="234.5" y1="286.4" x2="234.5" y2="361"/>
<line x1="51.8" y1="349.3" x2="132" y2="349.3"/>
<line x1="184.8" y1="349.3" x2="234.5" y2="349.3"/>
</g>
<clipPath id="cc"><rect x="51.8" y="220.3" width="198.60000000000002" height="146.3"/></clipPath>
<g clip-path="url(#cc)" fill="none" stroke-linejoin="round">
<path d="M56.90 220.30 L57.33 221.70 L57.52 222.65 L58.13 227.50 L58.64 230.88 L59.24 234.24 L59.87 237.10 L60.91 240.36 L62.56 245.98 L63.72 249.21 L64.68 251.46 L65.81 253.59 L66.91 255.23 L68.14 256.77 L69.47 258.16 L70.98 259.43 L72.61 260.53 L74.76 261.67 L76.57 262.44 L77.96 262.89 L79.36 263.25 L83.18 264.07 L87.06 264.66 L90.94 265.08 L108.47 266.30 L118.22 266.88 L136.74 267.87 L147.45 268.62 L165.92 270.25 L184.86 272.19 L194.59 273.05 L199.42 273.64 L204.71 274.60 L210.89 276.02 L215.14 277.20 L219.30 278.61 L222.46 279.88 L225.97 281.61 L230.23 284.03 L231.89 285.09 L233.08 285.95 L234.89 287.52 L236.57 289.33 L238.06 291.29 L239.57 293.76 L240.25 295.07 L241.07 296.87 L242.27 300.06 L243.13 302.87 L243.72 305.73 L245.37 317.83 L245.63 320.26 L245.80 323.17 L246.09 330.49 L246.60 348.54 L246.80 366.60" stroke="#12b24c" stroke-width="1.5"/>
<path d="M51.80 223.00 L87.05 223.14 L99.29 223.24 L109.08 223.40 L115.44 223.57 L121.31 223.83 L128.15 224.26 L134.49 224.77 L138.88 225.27 L142.25 225.80 L145.60 226.57 L149.83 227.81 L152.59 228.83 L155.72 230.25 L158.72 231.88 L161.21 233.49 L162.77 234.66 L163.89 235.58 L164.98 236.58 L166.36 237.99 L168.90 240.96 L170.09 242.53 L171.21 244.15 L172.24 245.81 L173.45 247.92 L174.59 250.11 L175.43 251.89 L176.72 255.06 L177.89 258.79 L179.55 264.94 L180.35 268.28 L181.35 273.56 L182.26 279.37 L183.41 288.11 L184.09 294.44 L184.42 298.83 L184.87 308.12 L185.21 312.02 L187.71 328.98 L188.73 335.27 L189.46 339.13 L190.22 341.94 L190.73 343.33 L191.53 345.14 L192.21 346.43 L192.97 347.69 L194.18 349.26 L195.20 350.26 L196.73 351.43 L198.86 352.73 L201.93 354.30 L205.07 355.69 L207.85 356.70 L210.65 357.51 L213.97 358.34 L217.81 359.17 L221.68 359.88 L225.55 360.47 L231.38 361.13 L250.40 362.90" stroke="#10608f" stroke-width="1.5"/>
</g>
<line x1="158.6" y1="229.5" x2="169.5" y2="239.2" stroke="#f0141e" stroke-width="1.1"/>
<line x1="228.9" y1="281.6" x2="240.3" y2="291.8" stroke="#f0141e" stroke-width="1.1"/>
<line x1="188.3" y1="344.2" x2="199.7" y2="355.6" stroke="#f0141e" stroke-width="1.1"/>
<line x1="66.5" y1="255.9" x2="78.6" y2="267.1" stroke="#f0141e" stroke-width="1.1"/>
<path d="M51.8 367.25 V220.3 H250.4 V367.25" fill="none" stroke="#5e5e5e" stroke-width="1.3"/>
<path d="M51.15 366.6 H251.05" fill="none" stroke="#5e5e5e" stroke-width="1.3"/>
<text x="48.599999999999994" y="370.3" font-family='"Liberation Sans", Arial, sans-serif' font-size="10.4" font-weight="normal" fill="#1a1a1a" text-anchor="end" stroke="#1a1a1a" stroke-width="0.22" >0</text>
<line x1="51.8" y1="337.34" x2="54.199999999999996" y2="337.34" stroke="#5e5e5e" stroke-width="0.9"/>
<text x="48.599999999999994" y="341.04" font-family='"Liberation Sans", Arial, sans-serif' font-size="10.4" font-weight="normal" fill="#1a1a1a" text-anchor="end" stroke="#1a1a1a" stroke-width="0.22" >1</text>
<line x1="51.8" y1="308.08" x2="54.199999999999996" y2="308.08" stroke="#5e5e5e" stroke-width="0.9"/>
<text x="48.599999999999994" y="311.78000000000003" font-family='"Liberation Sans", Arial, sans-serif' font-size="10.4" font-weight="normal" fill="#1a1a1a" text-anchor="end" stroke="#1a1a1a" stroke-width="0.22" >2</text>
<line x1="51.8" y1="278.82" x2="54.199999999999996" y2="278.82" stroke="#5e5e5e" stroke-width="0.9"/>
<text x="48.599999999999994" y="282.52000000000004" font-family='"Liberation Sans", Arial, sans-serif' font-size="10.4" font-weight="normal" fill="#1a1a1a" text-anchor="end" stroke="#1a1a1a" stroke-width="0.22" >3</text>
<line x1="51.8" y1="249.56" x2="54.199999999999996" y2="249.56" stroke="#5e5e5e" stroke-width="0.9"/>
<text x="48.599999999999994" y="253.26" font-family='"Liberation Sans", Arial, sans-serif' font-size="10.4" font-weight="normal" fill="#1a1a1a" text-anchor="end" stroke="#1a1a1a" stroke-width="0.22" >4</text>
<text x="48.599999999999994" y="224.0" font-family='"Liberation Sans", Arial, sans-serif' font-size="10.4" font-weight="normal" fill="#1a1a1a" text-anchor="end" stroke="#1a1a1a" stroke-width="0.22" >5</text>
<text x="51.8" y="378.40000000000003" font-family='"Liberation Sans", Arial, sans-serif' font-size="10.4" font-weight="normal" fill="#1a1a1a" text-anchor="middle" stroke="#1a1a1a" stroke-width="0.22" >0</text>
<line x1="91.52" y1="366.6" x2="91.52" y2="364.20000000000005" stroke="#5e5e5e" stroke-width="0.9"/>
<text x="91.52000000000001" y="378.40000000000003" font-family='"Liberation Sans", Arial, sans-serif' font-size="10.4" font-weight="normal" fill="#1a1a1a" text-anchor="middle" stroke="#1a1a1a" stroke-width="0.22" >1</text>
<line x1="131.24" y1="366.6" x2="131.24" y2="364.20000000000005" stroke="#5e5e5e" stroke-width="0.9"/>
<text x="131.24" y="378.40000000000003" font-family='"Liberation Sans", Arial, sans-serif' font-size="10.4" font-weight="normal" fill="#1a1a1a" text-anchor="middle" stroke="#1a1a1a" stroke-width="0.22" >2</text>
<line x1="170.96" y1="366.6" x2="170.96" y2="364.20000000000005" stroke="#5e5e5e" stroke-width="0.9"/>
<text x="170.96" y="378.40000000000003" font-family='"Liberation Sans", Arial, sans-serif' font-size="10.4" font-weight="normal" fill="#1a1a1a" text-anchor="middle" stroke="#1a1a1a" stroke-width="0.22" >3</text>
<line x1="210.68" y1="366.6" x2="210.68" y2="364.20000000000005" stroke="#5e5e5e" stroke-width="0.9"/>
<text x="210.68" y="378.40000000000003" font-family='"Liberation Sans", Arial, sans-serif' font-size="10.4" font-weight="normal" fill="#1a1a1a" text-anchor="middle" stroke="#1a1a1a" stroke-width="0.22" >4</text>
<text x="250.40000000000003" y="378.40000000000003" font-family='"Liberation Sans", Arial, sans-serif' font-size="10.4" font-weight="normal" fill="#1a1a1a" text-anchor="middle" stroke="#1a1a1a" stroke-width="0.22" >5</text>
<text x="118.5" y="251" font-family='"Liberation Sans", Arial, sans-serif' font-size="10.2" font-weight="bold" fill="#f0141e" text-anchor="middle" stroke="#f0141e" stroke-width="0.22" >NM</text>
<text x="214.8" y="321.1" font-family='"Liberation Sans", Arial, sans-serif' font-size="10.2" font-weight="bold" fill="#f0141e" text-anchor="middle" stroke="#f0141e" stroke-width="0.22" >NM</text>
<text x="32.6" y="235" font-family='"Liberation Sans", Arial, sans-serif' font-size="10.9" font-weight="bold" fill="#f0141e" text-anchor="start" stroke="#f0141e" stroke-width="0.22" >V<tspan font-size="7.0" dy="2.4">OH</tspan></text>
<text x="33.2" y="350" font-family='"Liberation Sans", Arial, sans-serif' font-size="10.9" font-weight="bold" fill="#f0141e" text-anchor="start" stroke="#f0141e" stroke-width="0.22" >V<tspan font-size="7.0" dy="2.4">OL</tspan></text>
<text x="156.3" y="378.3" font-family='"Liberation Sans", Arial, sans-serif' font-size="10.9" font-weight="bold" fill="#f0141e" text-anchor="start" stroke="#f0141e" stroke-width="0.22" >V<tspan font-size="7.0" dy="2.4">IL</tspan></text>
<text x="189.0" y="378.3" font-family='"Liberation Sans", Arial, sans-serif' font-size="10.9" font-weight="bold" fill="#f0141e" text-anchor="start" stroke="#f0141e" stroke-width="0.22" >V<tspan font-size="7.0" dy="2.4">IH</tspan></text>
<text x="157.7" y="228.5" font-family='"Liberation Sans", Arial, sans-serif' font-size="7.9" font-weight="bold" fill="#111" text-anchor="start" stroke="#111" stroke-width="0.22" textLength="40.8" lengthAdjust="spacingAndGlyphs">Slope = &#8211; 1</text>
<rect x="134" y="345.8" width="48.50" height="8.40" fill="#fff" />
<text x="137.4" y="352.3" font-family='"Liberation Sans", Arial, sans-serif' font-size="7.9" font-weight="bold" fill="#111" text-anchor="start" stroke="#111" stroke-width="0.22" textLength="40.6" lengthAdjust="spacingAndGlyphs">Slope = &#8211; 1</text>
<text x="204.6" y="231.0" font-family='"Liberation Sans", Arial, sans-serif' font-size="10.1" font-weight="normal" fill="#1a1a1a" text-anchor="start" stroke="#1a1a1a" stroke-width="0.22" >V<tspan font-size="6.7" dy="2.7">DD</tspan><tspan dy="-2.7"> = 5 V</tspan></text>
<text x="0" y="0" font-family='"Liberation Sans", Arial, sans-serif' font-size="10.4" font-weight="normal" fill="#1a1a1a" text-anchor="middle" stroke="#1a1a1a" stroke-width="0.22" transform="translate(36.6,291.6) rotate(-90)">V<tspan font-size="6.1" dy="3.3">OUT</tspan><tspan dy="-3.3"> (V)</tspan></text>
<text x="151.7" y="390.6" font-family='"Liberation Sans", Arial, sans-serif' font-size="10.0" font-weight="normal" fill="#1a1a1a" text-anchor="middle" stroke="#1a1a1a" stroke-width="0.22" >V<tspan font-size="6.0" dy="3.3">IN</tspan><tspan dy="-3.3"> (V)</tspan></text>
</g>
</svg>
</body></html>
